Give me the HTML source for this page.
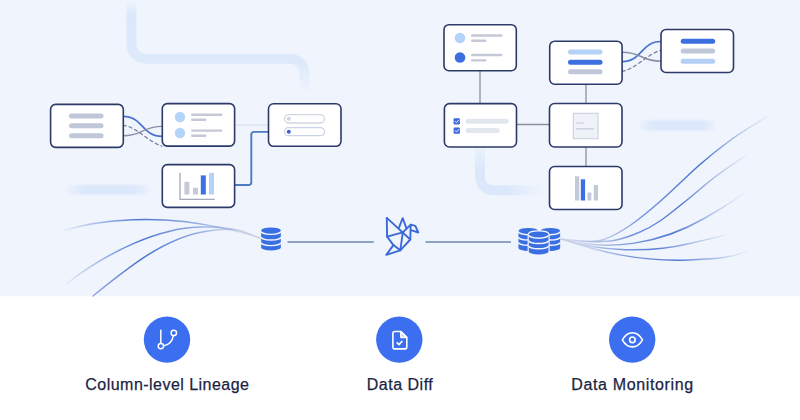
<!DOCTYPE html>
<html lang="en">
<head>
<meta charset="utf-8">
<title>Datafold features</title>
<style>
html,body{margin:0;padding:0;background:#fff;}
body{width:800px;height:420px;overflow:hidden;position:relative;font-family:"Liberation Sans",sans-serif;}
#art{position:absolute;left:0;top:0;width:800px;height:420px;display:block;}
.lbl{position:absolute;top:374px;height:22px;line-height:22px;font-size:16px;color:#1b2444;white-space:nowrap;text-align:center;transform:translateX(-50%);-webkit-text-stroke:0.25px #1b2444;}
</style>
</head>
<body>
<svg id="art" width="800" height="420" viewBox="0 0 800 420">
<defs>
  <linearGradient id="gTopPath" gradientUnits="userSpaceOnUse" x1="0" y1="0" x2="0" y2="100">
    <stop offset="0.01" stop-color="#dbe8fb" stop-opacity="0"/>
    <stop offset="0.14" stop-color="#dbe8fb" stop-opacity="1"/>
    <stop offset="0.62" stop-color="#dce9fb" stop-opacity="0.950"/>
    <stop offset="0.70" stop-color="#dde9fb" stop-opacity="0.800"/>
    <stop offset="0.95" stop-color="#dde9fb" stop-opacity="0"/>
  </linearGradient>
  <linearGradient id="gBotV" gradientUnits="userSpaceOnUse" x1="0" y1="146" x2="0" y2="172">
    <stop offset="0" stop-color="#dbe8fb" stop-opacity="0.350"/>
    <stop offset="1" stop-color="#dbe8fb" stop-opacity="1"/>
  </linearGradient>
  <linearGradient id="gBotPath" gradientUnits="userSpaceOnUse" x1="475" y1="0" x2="545" y2="0">
    <stop offset="0" stop-color="#dbe8fb" stop-opacity="1"/>
    <stop offset="0.45" stop-color="#dbe8fb" stop-opacity="1"/>
    <stop offset="1" stop-color="#dbe8fb" stop-opacity="0"/>
  </linearGradient>
  <linearGradient id="gBarL" gradientUnits="userSpaceOnUse" x1="64" y1="0" x2="153" y2="0">
    <stop offset="0" stop-color="#dbe7fb" stop-opacity="0"/>
    <stop offset="0.22" stop-color="#dbe7fb" stop-opacity="1"/>
    <stop offset="0.78" stop-color="#dbe7fb" stop-opacity="1"/>
    <stop offset="1" stop-color="#dbe7fb" stop-opacity="0"/>
  </linearGradient>
  <linearGradient id="gBarR" gradientUnits="userSpaceOnUse" x1="637" y1="0" x2="718" y2="0">
    <stop offset="0" stop-color="#dbe7fb" stop-opacity="0"/>
    <stop offset="0.2" stop-color="#dbe7fb" stop-opacity="1"/>
    <stop offset="0.8" stop-color="#dbe7fb" stop-opacity="1"/>
    <stop offset="1" stop-color="#dbe7fb" stop-opacity="0"/>
  </linearGradient>
  <filter id="blur2" x="-10%" y="-50%" width="120%" height="200%"><feGaussianBlur stdDeviation="0.9"/></filter>
  <!-- swoosh gradients -->
  <linearGradient id="sR1" gradientUnits="userSpaceOnUse" x1="561" y1="0" x2="775" y2="0">
    <stop offset="0" stop-color="#8f9bbd" stop-opacity="0.1"/>
    <stop offset="0.15" stop-color="#6f86c6" stop-opacity="0.3"/>
    <stop offset="0.35" stop-color="#3f68cf" stop-opacity="0.65"/>
    <stop offset="0.66" stop-color="#3f68cf" stop-opacity="0.95"/>
    <stop offset="0.85" stop-color="#5577cc" stop-opacity="0.3"/>
    <stop offset="1" stop-color="#7d90c0" stop-opacity="0"/>
  </linearGradient>
  <linearGradient id="sR2" gradientUnits="userSpaceOnUse" x1="561" y1="0" x2="753" y2="0">
    <stop offset="0" stop-color="#8f9bbd" stop-opacity="0.1"/>
    <stop offset="0.15" stop-color="#6f86c6" stop-opacity="0.3"/>
    <stop offset="0.35" stop-color="#3f68cf" stop-opacity="0.65"/>
    <stop offset="0.62" stop-color="#3f68cf" stop-opacity="0.9"/>
    <stop offset="0.85" stop-color="#5577cc" stop-opacity="0.3"/>
    <stop offset="1" stop-color="#7d90c0" stop-opacity="0"/>
  </linearGradient>
  <linearGradient id="sR3" gradientUnits="userSpaceOnUse" x1="561" y1="0" x2="748" y2="0">
    <stop offset="0" stop-color="#8f9bbd" stop-opacity="0.1"/>
    <stop offset="0.15" stop-color="#6f86c6" stop-opacity="0.3"/>
    <stop offset="0.35" stop-color="#3f68cf" stop-opacity="0.65"/>
    <stop offset="0.6" stop-color="#3f68cf" stop-opacity="0.9"/>
    <stop offset="0.85" stop-color="#5577cc" stop-opacity="0.3"/>
    <stop offset="1" stop-color="#7d90c0" stop-opacity="0"/>
  </linearGradient>
  <linearGradient id="sR4" gradientUnits="userSpaceOnUse" x1="561" y1="0" x2="730" y2="0">
    <stop offset="0" stop-color="#8f9bbd" stop-opacity="0.1"/>
    <stop offset="0.15" stop-color="#6f86c6" stop-opacity="0.3"/>
    <stop offset="0.35" stop-color="#3f68cf" stop-opacity="0.65"/>
    <stop offset="0.55" stop-color="#3f68cf" stop-opacity="0.85"/>
    <stop offset="0.85" stop-color="#5577cc" stop-opacity="0.3"/>
    <stop offset="1" stop-color="#7d90c0" stop-opacity="0"/>
  </linearGradient>
  <linearGradient id="sR5" gradientUnits="userSpaceOnUse" x1="561" y1="0" x2="752" y2="0">
    <stop offset="0" stop-color="#8f9bbd" stop-opacity="0.1"/>
    <stop offset="0.15" stop-color="#6f86c6" stop-opacity="0.3"/>
    <stop offset="0.35" stop-color="#3f68cf" stop-opacity="0.65"/>
    <stop offset="0.6" stop-color="#3f68cf" stop-opacity="0.9"/>
    <stop offset="0.85" stop-color="#5577cc" stop-opacity="0.3"/>
    <stop offset="1" stop-color="#7d90c0" stop-opacity="0"/>
  </linearGradient>
  <linearGradient id="sL" gradientUnits="userSpaceOnUse" x1="60" y1="0" x2="262" y2="0">
    <stop offset="0" stop-color="#3f68cf" stop-opacity="0"/>
    <stop offset="0.4" stop-color="#3f68cf" stop-opacity="0.9"/>
    <stop offset="0.7" stop-color="#4a70d0" stop-opacity="0.5"/>
    <stop offset="0.88" stop-color="#7d90c0" stop-opacity="0.25"/>
    <stop offset="1" stop-color="#8f9bbd" stop-opacity="0.12"/>
  </linearGradient>
  <linearGradient id="sL3" gradientUnits="userSpaceOnUse" x1="90" y1="0" x2="262" y2="0">
    <stop offset="0" stop-color="#3f68cf" stop-opacity="0.5"/>
    <stop offset="0.3" stop-color="#3f68cf" stop-opacity="0.95"/>
    <stop offset="0.65" stop-color="#4a70d0" stop-opacity="0.5"/>
    <stop offset="0.86" stop-color="#7d90c0" stop-opacity="0.25"/>
    <stop offset="1" stop-color="#8f9bbd" stop-opacity="0.12"/>
  </linearGradient>
  
</defs>

<!-- panel bg -->
<rect x="0" y="0" width="800" height="296.300" fill="#f0f5fd"/>

<!-- decorative light paths -->
<path d="M131.500,-5 V44.700 C131.500,52.400 137.800,58.700 145.500,58.700 H290.500 C298.200,58.700 304.500,65 304.500,72.700 V100" fill="none" stroke="url(#gTopPath)" stroke-width="10"/>
<path d="M480,146 V172" fill="none" stroke="url(#gBotV)" stroke-width="10"/>
<path d="M480,171.500 V175.300 Q480,190.300 495,190.300 H549" fill="none" stroke="url(#gBotPath)" stroke-width="10"/>
<rect x="64" y="185" width="89" height="9.500" rx="2" fill="url(#gBarL)" filter="url(#blur2)"/>
<rect x="637" y="120.300" width="81" height="10.200" rx="2" fill="url(#gBarR)" filter="url(#blur2)"/>

<!-- swooshes right -->
<g fill="none" stroke-width="1.5" stroke-linecap="round">
  <path d="M561.0,239.0 C564.7,239.3 576.0,240.9 583.0,241.0 C590.0,241.1 595.2,242.4 603.0,239.8 C610.8,237.2 620.5,231.9 630.0,225.5 C639.5,219.1 648.3,211.7 660.0,201.5 C671.7,191.3 688.3,174.7 700.0,164.5 C711.7,154.3 720.0,147.8 730.0,140.5 C740.0,133.2 752.5,125.8 760.0,121.0 C767.5,116.2 772.5,113.5 775.0,112.0" stroke="url(#sR1)"/>
  <path d="M561.0,239.0 C565.8,239.4 581.0,241.5 590.0,241.7 C599.0,241.9 606.7,241.9 615.0,240.3 C623.3,238.7 632.5,235.2 640.0,232.0 C647.5,228.8 652.2,226.3 660.0,221.0 C667.8,215.7 677.8,207.3 687.0,200.0 C696.2,192.7 704.8,184.7 715.0,177.0 C725.2,169.3 741.3,158.7 748.0,154.0 C754.7,149.3 753.8,149.8 755.0,149.0" stroke="url(#sR2)"/>
  <path d="M561,239 C610,252 660,244 705,218 S735,198 748,190" stroke="url(#sR3)"/>
  <path d="M561,239 C600,252 650,253 690,243.5 S722,236 732,233" stroke="url(#sR4)"/>
  <path d="M561,239 C600,252 640,262 690,260 S735,254 752,250" stroke="url(#sR5)"/>
</g>
<!-- swooshes left -->
<g fill="none" stroke-width="1.5" stroke-linecap="round">
  <path d="M62,231 C100,219 160,214 220,227.6 S250,236 262,239" stroke="url(#sL)"/>
  <path d="M66,284 C110,250 160,228 200,227 S245,234 262,239" stroke="url(#sL)"/>
  <path d="M93,296 C130,266 165,238 205,231.5 S245,234 262,239" stroke="url(#sL3)"/>
</g>

<!-- connectors left -->
<g fill="none" stroke-linecap="round">
  <path d="M235,125 H268" stroke="#dde3ee" stroke-width="1.3"/>
  <path d="M234,185 H248.500 Q251.300,185 251.300,182.200 V134.700 Q251.300,131.900 254.100,131.900 H268" stroke="#4f78c6" stroke-width="1.9"/>
  <path d="M123,116.400 C143,116.400 142,136.400 162,136.400" stroke="#4a72d2" stroke-width="1.7"/>
  <path d="M123,135.700 C143,135.700 142,126.400 162,126.400" stroke="#878da3" stroke-width="1.4"/>
  <path d="M123,125.300 C137,127 147,141 162,146.200" stroke="#727a96" stroke-width="1.2" stroke-dasharray="3.2 3"/>
</g>
<!-- connectors right -->
<g fill="none" stroke="#8a8f9c" stroke-width="1.3">
  <path d="M480,71 V103"/>
  <path d="M586,84 V103"/>
  <path d="M586,147 V166"/>
  <path d="M516.5,124.5 H549.5"/>
</g>
<g fill="none" stroke-linecap="round">
  <path d="M622,61.700 C642,61.700 641,41.500 661,41.500" stroke="#4a72d2" stroke-width="1.7"/>
  <path d="M622,52.300 C642,52.300 641,61.200 661,61.200" stroke="#878da3" stroke-width="1.4"/>
  <path d="M622,71.300 C636,69 647,54 661,50.300" stroke="#727a96" stroke-width="1.2" stroke-dasharray="3.2 3"/>
</g>

<!-- cards -->
<g fill="#ffffff" stroke="#2c3a69" stroke-width="1.6">
  <rect x="50.600" y="104.350" width="72.700" height="43" rx="5"/>
  <rect x="162.300" y="103.600" width="72.300" height="42.500" rx="5"/>
  <rect x="268.500" y="103.800" width="72.500" height="42.500" rx="5"/>
  <rect x="162.300" y="164.600" width="72.300" height="42.800" rx="5"/>
  <rect x="444" y="24.700" width="72.300" height="46" rx="5"/>
  <rect x="549.700" y="41.200" width="72.400" height="43" rx="5"/>
  <rect x="661" y="29.5" width="72.5" height="43" rx="5"/>
  <rect x="444.400" y="103.600" width="72.100" height="43.400" rx="5"/>
  <rect x="549.5" y="103.5" width="72.5" height="43.5" rx="5"/>
  <rect x="549.5" y="166.5" width="72.5" height="43" rx="5"/>
</g>

<!-- card 1 content -->
<g fill="#bfc7d9">
  <rect x="69" y="113.500" width="34.500" height="5" rx="2.500"/>
  <rect x="69" y="123.200" width="34.500" height="5" rx="2.500"/>
  <rect x="69" y="133.200" width="34.500" height="5" rx="2.500"/>
</g>
<!-- card 2 content -->
<circle cx="180" cy="117" r="5.2" fill="#b5d2f8"/>
<circle cx="180" cy="133" r="5.2" fill="#b5d2f8"/>
<g fill="#c5c9d5">
  <rect x="191" y="113.5" width="31.5" height="2.4" rx="1.2"/>
  <rect x="191" y="118.6" width="15.5" height="2.4" rx="1.2"/>
  <rect x="191" y="129.4" width="31.5" height="2.4" rx="1.2"/>
  <rect x="191" y="134.6" width="15.5" height="2.4" rx="1.2"/>
</g>
<!-- card 3 content -->
<g fill="#ffffff" stroke-width="1.300">
  <rect x="284.500" y="114.600" width="40" height="8.400" rx="4.200" stroke="#d3d6e0"/>
  <rect x="284.500" y="127.700" width="40" height="8" rx="4" stroke="#cad2ec"/>
</g>
<circle cx="288.800" cy="118.700" r="2" fill="#cdd4e3"/>
<circle cx="288.800" cy="131.700" r="2" fill="#3f5fc9"/>
<!-- card 4 content: bar chart -->
<path d="M180,172.800 V199.300 H214.700" fill="none" stroke="#a3a9bb" stroke-width="1.3"/>
<rect x="184.400" y="181.800" width="5" height="12.700" fill="#c6cad6"/>
<rect x="193" y="187.800" width="5" height="6.700" fill="#c6cad6"/>
<rect x="200.800" y="175.400" width="5" height="19.100" fill="#3c6fe0"/>
<rect x="209" y="172.900" width="5" height="21.600" fill="#b5d2f8"/>

<!-- R1 content -->
<circle cx="460" cy="38" r="5.3" fill="#b5d2f8"/>
<circle cx="460" cy="57.500" r="5.3" fill="#3c6fe0"/>
<g fill="#c5c9d5">
  <rect x="471" y="34.3" width="31.5" height="2.4" rx="1.2"/>
  <rect x="471" y="39.600" width="15.5" height="2.4" rx="1.2"/>
  <rect x="471" y="53.800" width="31.5" height="2.4" rx="1.2"/>
  <rect x="471" y="59.200" width="15.5" height="2.4" rx="1.2"/>
</g>
<!-- R2 content -->
<rect x="568" y="49.500" width="34.500" height="5" rx="2.500" fill="#b5d2f8"/>
<rect x="568" y="59.700" width="34.500" height="5" rx="2.500" fill="#3c6fe0"/>
<rect x="568" y="69.300" width="34.500" height="5" rx="2.500" fill="#bfc7d9"/>
<!-- R3 content -->
<rect x="680.700" y="38.700" width="34.500" height="5" rx="2.500" fill="#3c6fe0"/>
<rect x="680.700" y="48.500" width="34.500" height="5" rx="2.500" fill="#bfc7d9"/>
<rect x="680.700" y="58.700" width="34.500" height="5" rx="2.500" fill="#b4cef4"/>
<!-- R4 content -->
<g>
  <rect x="453.600" y="118.200" width="6.300" height="6.300" rx="1" fill="#3d69e0"/>
  <rect x="453.600" y="127.500" width="6.300" height="6.300" rx="1" fill="#3d69e0"/>
  <path d="M455.200,121.400 l1.300,1.300 l2.100,-2.500 M455.200,130.700 l1.300,1.300 l2.100,-2.500" fill="none" stroke="#fff" stroke-width="0.9" stroke-linecap="round" stroke-linejoin="round"/>
  <rect x="465.700" y="118.700" width="43" height="5" rx="2.500" fill="#e2e6ee"/>
  <rect x="465.700" y="128" width="34" height="5" rx="2.500" fill="#e2e6ee"/>
</g>
<!-- R5 content -->
<rect x="573.300" y="113.300" width="24.700" height="25.400" fill="#eff2f9" stroke="#c7cddd" stroke-width="1"/>
<path d="M576.300,123 H584.500 M576.300,128.800 H593.800" stroke="#c3c9d9" stroke-width="1.2" fill="none"/>
<!-- R6 content -->
<rect x="575" y="176.300" width="4.300" height="24.200" fill="#c3c9d9"/>
<rect x="580.800" y="179.300" width="4.300" height="21.200" fill="#3c6fe0"/>
<rect x="587.500" y="192.500" width="3.800" height="8" fill="#c3c9d9"/>
<rect x="593.800" y="185" width="4.200" height="15.500" fill="#c3c9d9"/>

<!-- center row -->
<path d="M287.500,242 H373.700 M425.500,242 H511" stroke="#6f87ab" stroke-width="1.700" fill="none"/>
<g transform="translate(271,227.400)"><path d="M-9.850,3.100 A9.850,3.100 0 0 1 9.850,3.100 V20 A9.850,3.100 0 0 1 -9.850,20 Z" fill="#3a6fe3"/>
    <path d="M-9.850,3.900 A9.850,3.100 0 0 0 9.850,3.900 M-9.850,9.500 A9.850,3.100 0 0 0 9.850,9.500 M-9.850,15.100 A9.850,3.100 0 0 0 9.850,15.100" fill="none" stroke="#f0f5fe" stroke-width="1.400"/></g>
<g transform="translate(528.300,227.900)"><path d="M-9.850,3.100 A9.850,3.100 0 0 1 9.850,3.100 V20 A9.850,3.100 0 0 1 -9.850,20 Z" fill="#3a6fe3"/>
    <path d="M-9.850,3.700 A9.850,3.100 0 0 0 9.850,3.700 M-9.850,9 A9.850,3.100 0 0 0 9.850,9 M-9.850,14.300 A9.850,3.100 0 0 0 9.850,14.300" fill="none" stroke="#f0f5fe" stroke-width="1.400"/></g>
<g transform="translate(550.300,227.900)"><path d="M-9.850,3.100 A9.850,3.100 0 0 1 9.850,3.100 V20 A9.850,3.100 0 0 1 -9.850,20 Z" fill="#3a6fe3"/>
    <path d="M-9.850,3.700 A9.850,3.100 0 0 0 9.850,3.700 M-9.850,9 A9.850,3.100 0 0 0 9.850,9 M-9.850,14.300 A9.850,3.100 0 0 0 9.850,14.300" fill="none" stroke="#f0f5fe" stroke-width="1.400"/></g>
<g>
  <path d="M528.800,234.500 A9.850,3.100 0 0 1 548.500,234.500 V251.400 A9.850,3.100 0 0 1 528.800,251.400 Z" fill="#f0f5fd" stroke="#f0f5fd" stroke-width="2.400"/>
  <g transform="translate(538.650,231.400)"><path d="M-9.850,3.100 A9.850,3.100 0 0 1 9.850,3.100 V20 A9.850,3.100 0 0 1 -9.850,20 Z" fill="#3a6fe3"/>
    <path d="M-9.850,3.700 A9.850,3.100 0 0 0 9.850,3.700 M-9.850,9 A9.850,3.100 0 0 0 9.850,9 M-9.850,14.300 A9.850,3.100 0 0 0 9.850,14.300" fill="none" stroke="#f0f5fe" stroke-width="1.400"/></g>
</g>
<!-- bird -->
<g fill="none" stroke="#3d68d8" stroke-width="1.900" stroke-linejoin="round" stroke-linecap="round">
  <path d="M386.800,217.900 L387.100,236.600 L393.400,245.100 L386.300,254.900 L400.300,250.300 L410.300,239.500 L410.700,224.700 L415.300,225.900 L418.300,232.500 L411,230.200"/>
  <path d="M386.800,217.900 L410.300,239.500"/>
  <path d="M387.100,236.600 L402.800,232.400 L410.700,224.700"/>
  <path d="M402.800,232.400 L400.300,250.300 L393.400,245.100"/>
  <path d="M399.100,227.400 L402.700,218.200 L406.400,228.200"/>
</g>

<!-- feature icons -->
<circle cx="167" cy="339.600" r="23.200" fill="#3c6ff0"/>
<circle cx="399.300" cy="339.600" r="23.200" fill="#3c6ff0"/>
<circle cx="632.200" cy="339.600" r="23.200" fill="#3c6ff0"/>
<!-- branch icon -->
<g fill="none" stroke="#ffffff" stroke-width="1.500" stroke-linecap="round">
  <path d="M160.800,330.200 V343"/>
  <circle cx="160.900" cy="346.100" r="2.700"/>
  <circle cx="173.800" cy="332.900" r="2.700"/>
  <path d="M173.400,335.700 C172.400,341.300 168.600,345 163.600,345.700"/>
</g>
<!-- file-check icon -->
<g fill="none" stroke="#ffffff" stroke-width="1.600" stroke-linecap="round" stroke-linejoin="round">
  <path d="M394.900,331.500 H400.900 L406.800,337.400 V346.900 Q406.800,348.900 404.800,348.900 H394.900 Q392.900,348.900 392.900,346.900 V333.500 Q392.900,331.500 394.900,331.500 Z"/>
  <path d="M400.900,331.800 V337.400 H406.500 Z" fill="#ffffff" fill-opacity="0.550"/>
  <path d="M397.200,342.900 L399,344.600 L401.900,341.500" stroke-width="1.700"/>
</g>
<!-- eye icon -->
<g fill="none" stroke="#ffffff" stroke-width="1.600" stroke-linecap="round" stroke-linejoin="round">
  <path d="M622.300,339.800 C625.100,335 628.400,332.700 632.400,332.700 S639.700,335 642.500,339.800 C639.700,344.600 636.400,346.900 632.400,346.900 S625.100,344.600 622.300,339.800 Z"/>
  <circle cx="632.400" cy="339.800" r="2.800"/>
</g>
</svg>
<div class="lbl" style="left:167.400px;letter-spacing:0.47px">Column-level Lineage</div>
<div class="lbl" style="left:400px;letter-spacing:0.52px">Data Diff</div>
<div class="lbl" style="left:632.500px;letter-spacing:0.63px">Data Monitoring</div>
</body>
</html>
